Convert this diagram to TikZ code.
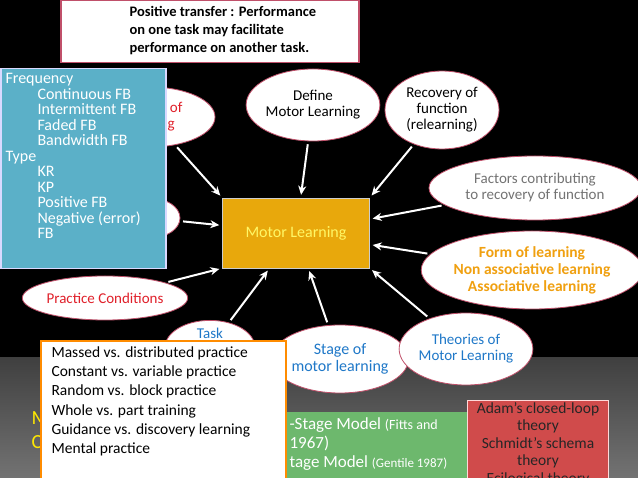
\documentclass[tikz,border=0pt]{standalone}
\usepackage{fontspec}
\setmainfont{Carlito}
\usetikzlibrary{shapes.geometric,arrows.meta}
\definecolor{pinkb}{HTML}{C0506A}
\definecolor{txtred}{HTML}{E0202A}
\definecolor{txtblue}{HTML}{1F78C8}
\definecolor{txtorange}{HTML}{F0A010}
\definecolor{mlorange}{HTML}{E8A80C}
\definecolor{fbblue}{HTML}{5BB0C8}
\definecolor{grn}{HTML}{6DB86D}
\definecolor{rd}{HTML}{D04B4B}
\tikzset{
 ell/.style={ellipse,draw=pinkb,line width=0.8pt,fill=white,inner sep=0pt,align=center,font=\fontsize{15}{16}\selectfont},
 arr/.style={draw=white,line width=2pt,-{Stealth[length=9pt,width=8pt]},shorten >=3pt,shorten <=3pt},
}
\begin{document}
\begin{tikzpicture}[x=1pt,y=-1pt]
\useasboundingbox (0,0) rectangle (638,478);
\fill[black] (0,0) rectangle (638,358);
\shade[top color=black!75,bottom color=black!55] (0,358) rectangle (638,478);
\node[anchor=west,text=yellow!90!orange,font=\fontsize{20}{22}\selectfont] (m1) at (28,418) {M};
\node[anchor=west,text=yellow!90!orange,font=\fontsize{20}{22}\selectfont] (m2) at (28,442) {Co};
% ellipses
\node[ell,minimum width=130,minimum height=60,text=txtred] (tr) at (150,117) {Transfer of\\learning};
\node[ell,minimum width=128,minimum height=72] (def) at (313,105) {Define\\Motor Learning};
\node[ell,minimum width=114,minimum height=78] (rec) at (442,110) {Recovery of\\function\\(relearning)};
\node[ell,minimum width=212,minimum height=64,text=black!55] (fac) at (535,188) {Factors contributing\\to recovery of function};
\node[ell,minimum width=60,minimum height=40] (fb) at (150,218) {};
\node[ell,minimum width=176,minimum height=78,text=txtorange,font=\fontsize{15.5}{17}\selectfont\bfseries] (form) at (532,270) {Form of learning\\Non associative learning\\Associative learning};
\node[ell,minimum width=148,minimum height=44,text=txtred] (pc) at (105,298) {Practice Conditions};
\node[ell,minimum width=90,minimum height=44,text=txtblue,anchor=north] (task) at (210,320) {Task\\[12pt]};
\node[ell,minimum width=106,minimum height=68,text=txtblue,font=\fontsize{16}{17}\selectfont] (stage) at (340,359) {Stage of\\motor learning};
\node[ell,minimum width=128,minimum height=72,text=txtblue] (theo) at (466,349) {Theories of\\Motor Learning};
% center
\node[draw=white!80!black,fill=mlorange,minimum width=147,minimum height=70,text=yellow!60,font=\fontsize{16}{17}\selectfont] (ml) at (296,233) {Motor Learning};
% arrows
\draw[arr] (tr) -- (ml.north west);
\draw[arr] (def) -- (ml);
\draw[arr] (rec) -- (ml.north east);
\draw[arr] (fac) -- (ml);
\draw[arr] (fb) -- (ml);
\draw[arr] (form) -- (ml);
\draw[arr] (pc) -- (ml.south west);
\draw[arr] (task) -- (ml);
\draw[arr] (stage) -- (ml);
\draw[arr] (theo) -- (ml.south east);
% top box
\node[draw=pinkb,line width=1.5pt,fill=white,minimum width=298,minimum height=62,anchor=north west] (pt) at (60,0) {};
\node[anchor=north west,align=left,font=\fontsize{14.5}{18}\selectfont\bfseries] (ptt) at (126,3) {Positive transfer : Performance\\on one task may facilitate\\performance on another task.};
% feedback box
\node[draw=white!85!blue,line width=1.5pt,fill=fbblue,minimum width=165,minimum height=200,anchor=north west] (fbb) at (0,68) {};
\node[anchor=north west,align=left,text=white,font=\fontsize{16}{15.5}\selectfont] (fbt) at (2,70) {Frequency\\\hspace*{32pt}Continuous FB\\\hspace*{32pt}Intermittent FB\\\hspace*{32pt}Faded FB\\\hspace*{32pt}Bandwidth FB\\Type\\\hspace*{32pt}KR\\\hspace*{32pt}KP\\\hspace*{32pt}Positive FB\\\hspace*{32pt}Negative (error)\\\hspace*{32pt}FB};
% green and red boxes
\node[fill=grn,minimum width=200,minimum height=68,anchor=north west] (gb) at (274,412) {};
\node[anchor=north west,align=left,text=white,font=\fontsize{17}{19}\selectfont] (gbt) at (286,414) {-Stage Model {\fontsize{14}{15}\selectfont(Fitts and}\\{}1967)\\tage Model {\fontsize{13}{15}\selectfont(Gentile 1987)}};
\node[draw=white!85!red,fill=rd,minimum width=141,minimum height=80,anchor=north west] (rb) at (467,400) {};
\node[anchor=north,align=center,text=black!85,font=\fontsize{15.5}{17.5}\selectfont] (rbt) at (538,399) {Adam's closed-loop\\theory\\Schmidt's schema\\theory\\Ecilogical theory};
% practice box
\node[draw=orange!90!yellow,line width=2pt,fill=white,minimum width=245,minimum height=140,anchor=north west] (pb) at (40,340) {};
\node[anchor=north west,align=left,font=\fontsize{15.5}{19.3}\selectfont] (pbt) at (48,343) {Massed vs. distributed practice\\Constant vs. variable practice\\Random vs. block practice\\Whole vs. part training\\Guidance vs. discovery learning\\Mental practice};
\end{tikzpicture}
\end{document}
